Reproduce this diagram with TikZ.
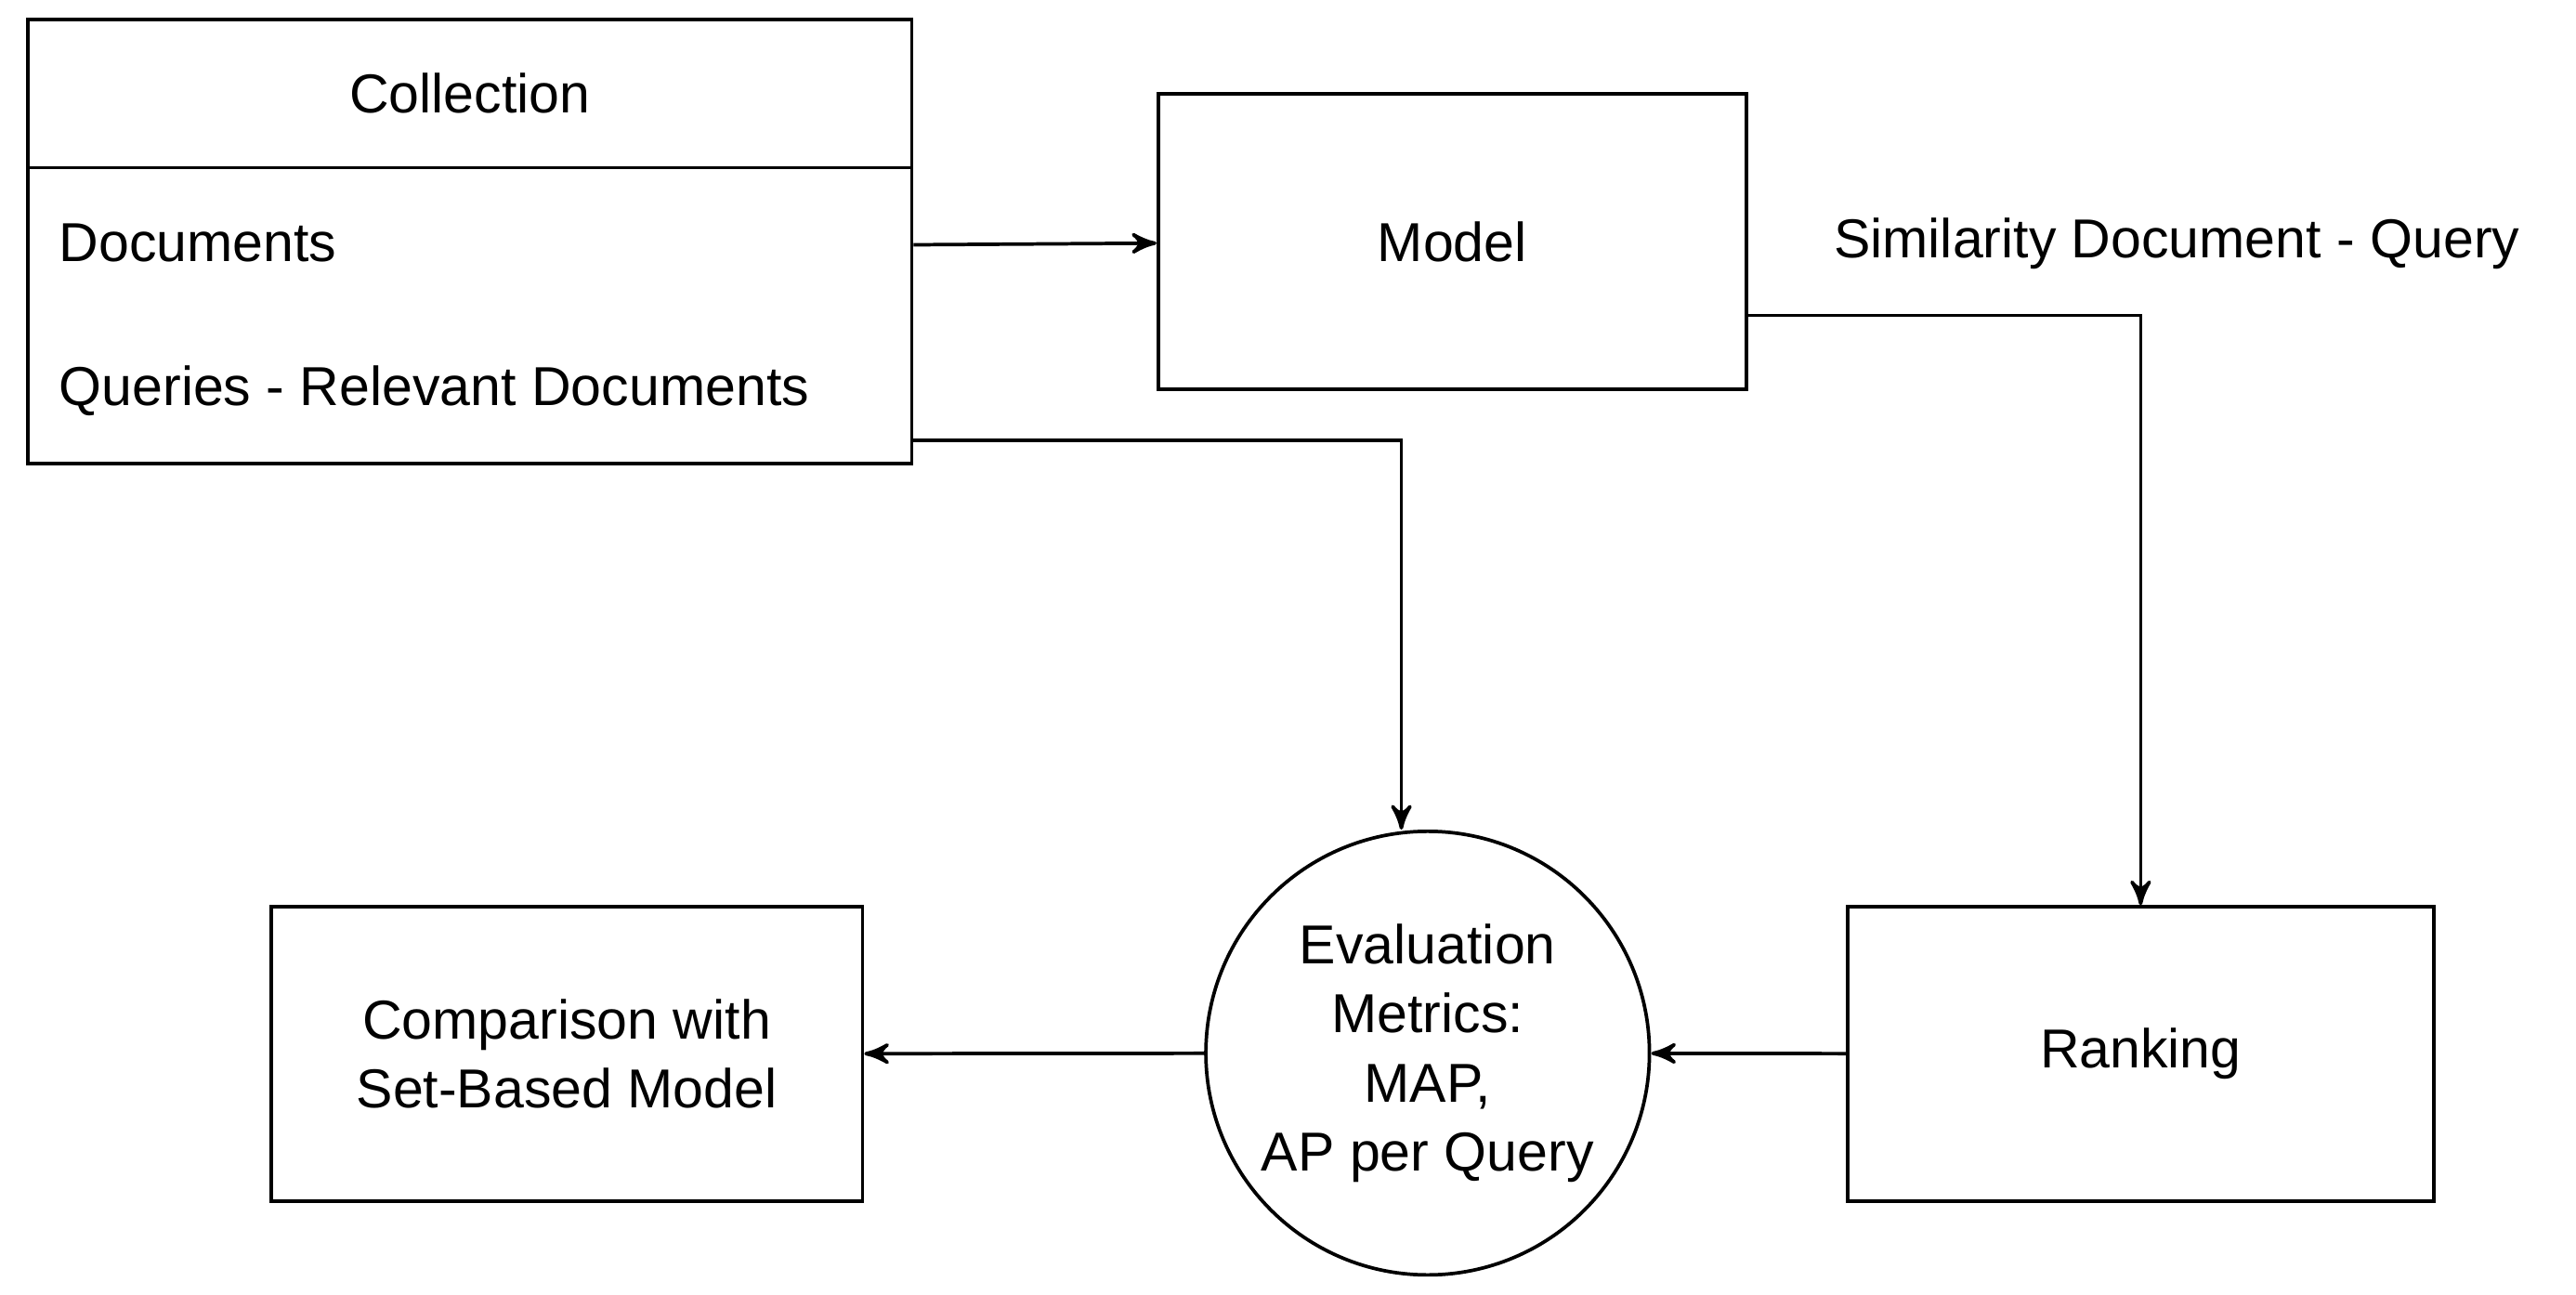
\documentclass[tikz,border=0pt]{standalone}
\usepackage{fontspec}
\setmainfont{Liberation Sans}
\usetikzlibrary{positioning}
\usetikzlibrary{calc}
\usetikzlibrary{arrows}
\tikzset{
b/.style={
  rectangle,
  inner sep=0pt,
  align=center,
  draw=black,
  fill=white
  },
t/.style={
  inner sep=0pt,
  anchor=west
  }
}
\begin{document}
\begin{tikzpicture}[->,>=stealth',line width=0.6pt,font=\fontsize{9.5}{12}\selectfont]
        \useasboundingbox (0,0) rectangle (15.68,-7.88);
        \node[b,minimum width=5.38cm,minimum height=0.9cm] at (2.86,-0.57) (head) {Collection};
        \node[b,minimum width=5.38cm,minimum height=1.8cm] at (2.86,-1.92) (body) {};
        \node[t] at (0.35,-1.48) (docs) {Documents};
        \node[t] at (0.35,-2.38) (qrels) {Queries - Relevant Documents};
        \node[b,minimum width=3.58cm,minimum height=1.8cm] at (8.84,-1.47) (model) {Model};
        \node[inner sep=0pt] at (13.25,-1.48) (sim) {Similarity Document - Query};
        \node[b,minimum width=3.57cm,minimum height=1.79cm] at (13.03,-6.415) (rank) {Ranking};
        \node[b,circle,minimum size=2.7cm] at (8.69,-6.41) (eval) {Evaluation\\Metrics:\\MAP,\\AP per Query};
        \node[b,minimum width=3.6cm,minimum height=1.79cm] at (3.45,-6.415) (comp) {Comparison with\\Set-Based Model};
        \draw ([yshift=-0.01cm]body.east |- docs) -- (model.west |- docs);
        \draw ($(body.south east)+(0,0.15)$) -| ([xshift=-1.6mm]eval.north);
        \draw ([yshift=-4.5mm]model.east) -| (rank.north);
        \draw (rank) -- (eval);
        \draw (eval) -- (comp);
\end{tikzpicture}
\end{document}
